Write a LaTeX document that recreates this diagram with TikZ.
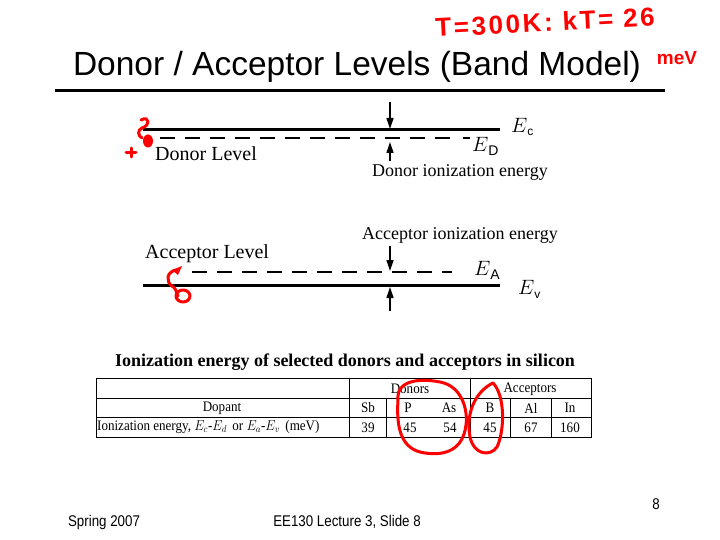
\documentclass[tikz,border=0pt]{standalone}
\usepackage{fontspec}
\setmainfont{Liberation Serif}
\setsansfont{Liberation Sans}
\usetikzlibrary{arrows.meta}
\newcommand{\sqz}[1]{\scalebox{0.9}[1]{#1}}
\newcommand{\fsqz}[1]{\scalebox{0.86}[1]{#1}}
\begin{document}
\begin{tikzpicture}[x=1pt,y=-1pt,
  band/.style={line width=3pt},
  lvl/.style={line width=1.2pt,dash pattern=on 15pt off 10pt},
  ionarrow/.style={line width=1.3pt,-{Triangle[length=11pt,width=7pt]}},
  lbl/.style={font=\fontsize{20}{21}\selectfont,inner sep=0pt},
  ilbl/.style={font=\fontsize{18}{19}\selectfont,inner sep=0pt},
  elbl/.style={font=\fontsize{20}{21}\selectfont,inner sep=0pt},
  tab/.style={font=\fontsize{14.5}{15}\selectfont,inner sep=0pt},
  foot/.style={font=\sffamily\fontsize{15.5}{16}\selectfont,inner sep=0pt},
  redpen/.style={draw=red,line width=3pt,line cap=round,line join=round},
  hand/.style={text=red,font=\sffamily\bfseries\fontsize{26}{26}\selectfont\addfontfeature{LetterSpace=10},inner sep=0pt}]
\useasboundingbox (0,0) rectangle (720,540);
% title
\node[font=\sffamily\fontsize{33.5}{35}\selectfont,inner sep=0pt] (title) at (357,67) {Donor / Acceptor Levels (Band Model)};
\coordinate (ulA) at (55,91); \coordinate (ulB) at (665,91);
\draw[line width=3pt] (ulA) -- (ulB);
% handwritten note
\node[hand,rotate=3] (note) at (545,22) {T=300K: kT= 26};
\node[hand,font=\sffamily\bfseries\fontsize{19}{19}\selectfont] (mev) at (677,58) {meV};
% donor part
\coordinate (ecA) at (143,130); \coordinate (ecB) at (500,130);
\draw[band] (ecA) -- (ecB);
\coordinate (edA) at (160,138); \coordinate (edB) at (452,138);
\draw[lvl] (edA) -- (edB);
\coordinate (edC) at (463,138); \coordinate (edD) at (470,138);
\draw[line width=1.2pt] (edC) -- (edD);
\node[elbl,anchor=west] (Ec) at (511,127) {$E$\raisebox{-3pt}{\sffamily\fontsize{12}{12}\selectfont c}};
\node[elbl,anchor=west] (ED) at (472,146) {$E$\raisebox{-4pt}{\sffamily\fontsize{14}{14}\selectfont D}};
\coordinate (dtop) at (390,102); \coordinate (dtip) at (390,129);
\draw[ionarrow] (dtop) -- (dtip);
\coordinate (dbot) at (390,161); \coordinate (dtip2) at (390,142);
\draw[ionarrow] (dbot) -- (dtip2);
\node[lbl,anchor=west] (donorlevel) at (155,154) {Donor Level};
\node[ilbl,anchor=west] (donorion) at (372,172) {Donor ionization energy};
% acceptor part
\node[ilbl,anchor=west] (accion) at (362,235) {Acceptor ionization energy};
\node[lbl,anchor=west] (acclevel) at (145,254) {Acceptor Level};
\coordinate (eaA) at (192,272); \coordinate (eaB) at (452,272);
\draw[lvl] (eaA) -- (eaB);
\coordinate (evA) at (143,285); \coordinate (evB) at (500,285);
\draw[band] (evA) -- (evB);
\node[elbl,anchor=west] (EA) at (474,270) {$E$\raisebox{-4pt}{\sffamily\fontsize{14}{14}\selectfont A}};
\node[elbl,anchor=west] (Ev) at (518,289) {$E$\raisebox{-4pt}{\sffamily\fontsize{12}{12}\selectfont v}};
\coordinate (atop) at (390,246); \coordinate (atip) at (390,271);
\draw[ionarrow] (atop) -- (atip);
\coordinate (abot) at (390,311); \coordinate (atip2) at (390,287);
\draw[ionarrow] (abot) -- (atip2);
% red marks donor
\fill[red] (148,141) ellipse (5pt and 6.5pt);
\draw[redpen] (141,120) .. controls (150,115) and (150,126) .. (142,128) .. controls (137,130) and (138,136) .. (142,138);
\draw[redpen] (126,153) -- (136,153);
\draw[redpen] (131,148) -- (131,157);
% red marks acceptor
\fill[red] (172,270) -- (182,266) -- (178,275) -- cycle;
\draw[redpen] (176,270) .. controls (166,272) and (166,282) .. (172,286) .. controls (178,290) and (176,294) .. (178,296);
\draw[redpen] (183,296) ellipse (7pt and 6pt);
% table title
\node[font=\bfseries\fontsize{18}{19}\selectfont,inner sep=0pt] (tabtitle) at (345,362) {Ionization energy of selected donors and acceptors in silicon};
% table
\coordinate (t1) at (96,378); \coordinate (t2) at (591,437);
\draw[line width=0.8pt] (t1) rectangle (t2);
\coordinate (h1a) at (96,398); \coordinate (h1b) at (591,398);
\coordinate (h2a) at (96,417); \coordinate (h2b) at (591,417);
\draw[line width=0.8pt] (h1a) -- (h1b) (h2a) -- (h2b);
\coordinate (v0a) at (349,378); \coordinate (v0b) at (349,437);
\coordinate (v1a) at (386,398); \coordinate (v1b) at (386,437);
\coordinate (v2a) at (470,378); \coordinate (v2b) at (470,437);
\coordinate (v3a) at (510,398); \coordinate (v3b) at (510,437);
\coordinate (v4a) at (551,398); \coordinate (v4b) at (551,437);
\draw[line width=0.8pt] (v0a) -- (v0b) (v1a) -- (v1b) (v2a) -- (v2b) (v3a) -- (v3b) (v4a) -- (v4b);
\node[tab] (donors) at (410,389) {\sqz{Donors}};
\node[tab] (acceptors) at (530,389) {\sqz{Acceptors}};
\node[tab] (dopant) at (222,408) {\sqz{Dopant}};
\node[tab] (sb) at (368,408) {\sqz{Sb}};
\node[tab] (p) at (408,408) {\sqz{P}};
\node[tab] (as) at (449,408) {\sqz{As}};
\node[tab] (b) at (490,408) {\sqz{B}};
\node[tab] (al) at (531,408) {\sqz{Al}};
\node[tab] (in) at (570,408) {\sqz{In}};
\node[tab,anchor=west] (ion) at (97,427) {\sqz{Ionization energy, $E_c$-$E_d$\, or $E_a$-$E_v$\, (meV)}};
\node[tab] (n1) at (368,428) {\sqz{39}};
\node[tab] (n2) at (410,428) {\sqz{45}};
\node[tab] (n3) at (450,428) {\sqz{54}};
\node[tab] (n4) at (490,428) {\sqz{45}};
\node[tab] (n5) at (531,428) {\sqz{67}};
\node[tab] (n6) at (570,428) {\sqz{160}};
% red circles on table
\draw[redpen] (398,400) .. controls (396,380) and (420,378) .. (440,382) .. controls (462,386) and (468,410) .. (466,425) .. controls (463,450) and (445,456) .. (425,453) .. controls (402,450) and (396,430) .. (398,400);
\draw[redpen] (470,437) .. controls (465,410) and (478,390) .. (493,383) .. controls (505,395) and (505,430) .. (497,447) .. controls (490,457) and (474,455) .. (470,437);
% footer
\node[foot] (spring) at (104,522) {\fsqz{Spring 2007}};
\node[foot] (lect) at (347,522) {\fsqz{EE130 Lecture 3, Slide 8}};
\node[foot] (num) at (656,504) {\fsqz{8}};
\end{tikzpicture}
\end{document}
